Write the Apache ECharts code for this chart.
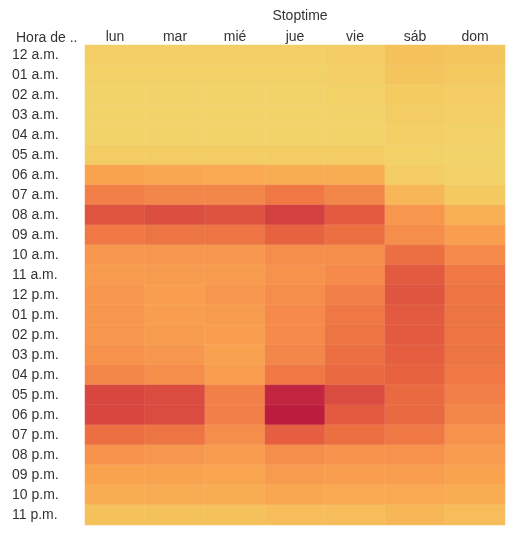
<!DOCTYPE html><html><head><meta charset="utf-8"><script src="https://cdn.jsdelivr.net/npm/echarts@6/dist/echarts.min.js"></script></head><body style="margin:0"><div id="c" style="width:512px;height:536px"></div><script>
const days=['lun','mar','mié','jue','vie','sáb','dom'];
const hours=['12 a.m.','01 a.m.','02 a.m.','03 a.m.','04 a.m.','05 a.m.','06 a.m.','07 a.m.','08 a.m.','09 a.m.','10 a.m.','11 a.m.','12 p.m.','01 p.m.','02 p.m.','03 p.m.','04 p.m.','05 p.m.','06 p.m.','07 p.m.','08 p.m.','09 p.m.','10 p.m.','11 p.m.'];
const values=[
[10,10,10,10,12,20,18],[8,8,8,8,10,18,16],[6,6,6,6,8,14,12],[6,6,6,6,6,12,10],[6,6,6,6,6,10,8],[12,12,12,12,12,8,6],
[35,33,32,30,30,12,8],[55,52,52,58,52,25,15],[75,78,76,85,72,42,28],[58,60,60,68,62,48,38],[42,42,42,48,48,62,50],[40,40,40,45,50,72,58],
[42,38,42,48,55,75,60],[42,38,40,50,58,72,60],[42,40,38,50,60,72,60],[45,42,36,52,62,70,60],[52,48,38,58,65,68,58],[82,80,55,95,80,65,55],
[82,80,55,98,72,65,52],[62,60,48,70,62,58,45],[45,42,40,48,45,45,40],[35,35,34,40,38,38,35],[30,30,30,33,32,32,30],[20,20,20,22,22,25,22]];
const data=[];values.forEach((r,i)=>r.forEach((v,j)=>data.push([j,i,v])));
const ch=echarts.init(document.getElementById('c'));
ch.setOption({animation:false,
title:[{text:'Stoptime',left:295,top:4,textAlign:'center',textStyle:{fontSize:14,fontWeight:'normal',color:'#333'}},
{text:'Hora de ..',left:11,top:26,textStyle:{fontSize:14,fontWeight:'normal',color:'#333'}}],
grid:{left:85,right:7,top:45,bottom:11},
xAxis:{type:'category',data:days,position:'top',axisLine:{show:false},axisTick:{show:false},axisLabel:{fontSize:14,color:'#333',margin:1},splitLine:{show:false}},
yAxis:{type:'category',data:hours,inverse:true,axisLine:{show:false},axisTick:{show:false},axisLabel:{fontSize:14,color:'#333',align:'left',margin:73}},
visualMap:{show:false,min:0,max:100,inRange:{color:['#f1d970','#f4c85e','#f9a650','#f58a4a','#e8653f','#d64440','#b8183f']}},
series:[{type:'heatmap',data:data,itemStyle:{borderColor:'rgba(255,255,255,0.15)',borderWidth:0.5}}]});
</script></body></html>
